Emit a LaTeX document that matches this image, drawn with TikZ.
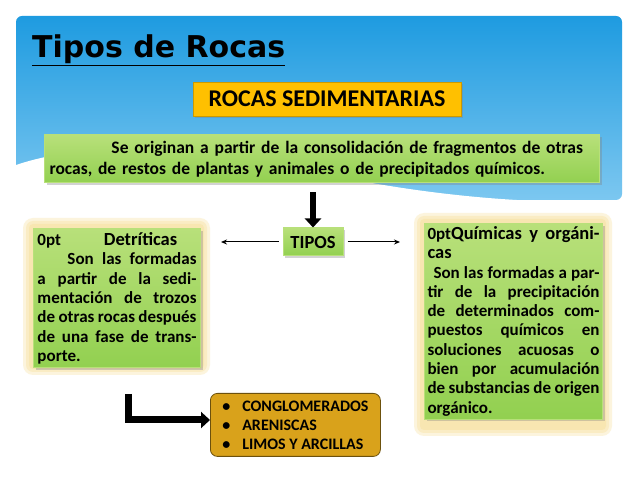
\documentclass[tikz,border=0pt]{standalone}
\usepackage{fontspec}
\setmainfont{Carlito}
\newfontfamily\titlefont{DejaVu Sans}
\usetikzlibrary{shadows,arrows.meta}
\definecolor{skyb}{HTML}{1E9BE0}
\definecolor{skyl}{HTML}{7CC7F0}
\definecolor{gold}{HTML}{FFC000}
\definecolor{grn}{HTML}{92D050}
\definecolor{grnl}{HTML}{B8E07A}
\definecolor{ochre}{HTML}{D9A21B}
\definecolor{glow}{HTML}{F5D77A}
\tikzset{
 greenbox/.style={draw=grnl,line width=1pt,top color=grnl,bottom color=grn,inner sep=4pt,drop shadow={opacity=0.35}},
 thinarrow/.style={-{Stealth[length=6pt,width=5pt]},line width=1pt},
 bigarrow/.style={-{Triangle[length=9pt,width=16pt]},line width=7pt},
}
\begin{document}
\begin{tikzpicture}[x=1pt,y=-1pt]
\useasboundingbox (0,0) rectangle (638,478);
\fill[white] (0,0) rectangle (638,478);
% header
\shade[top color=skyb,bottom color=skyl,rounded corners=6pt] (16,16) rectangle (622,200);
\fill[white] (16,165) .. controls (90,140) and (220,140) .. (330,175) .. controls (450,200) and (560,205) .. (622,200) -- (622,210) -- (16,210) -- cycle;
\node[anchor=base west,font=\titlefont\bfseries\fontsize{30}{32}\selectfont,inner sep=0pt] (title) at (32,58) {\underline{Tipos de Rocas}};
% glows
\foreach \o in {10,7,4}{
 \fill[glow,opacity=0.25,rounded corners=\o pt] (33-\o,228-\o) rectangle (200+\o,365+\o);
 \fill[glow,opacity=0.25,rounded corners=\o pt] (424-\o,223-\o) rectangle (602+\o,426+\o);
}
\node[fill=gold,draw=gold!80!black,line width=0.5pt,minimum width=268pt,minimum height=34pt,font=\bfseries\fontsize{24}{26}\selectfont,drop shadow={opacity=0.35}] (rs) at (327,99) {ROCAS SEDIMENTARIAS};
\node[greenbox,minimum width=555pt,minimum height=48pt,text width=545pt,inner sep=5pt,align=left,font=\bfseries\fontsize{17.5}{21}\selectfont] (desc) at (322,159) {\hspace*{62pt}Se originan a partir de la consolidación de fragmentos de otras\\rocas, de restos de plantas y animales o de precipitados químicos.};
\node[greenbox,minimum width=60pt,minimum height=28pt,inner sep=2pt,font=\bfseries\fontsize{18.5}{20}\selectfont] (tipos) at (313,242) {TIPOS};
\node[greenbox,anchor=north west,minimum width=167pt,text width=159pt,inner sep=4pt,align=justify,font=\bfseries\fontsize{17}{19.3}\selectfont\hyphenpenalty=10000\exhyphenpenalty=10000] (det) at (33,228) {\centerline{\fontsize{18.5}{20}\selectfont Detríticas}\par\hspace*{30pt}Son las formadas a partir de la sedimentación de trozos de otras rocas después de una fase de transporte.\par};
\node[greenbox,anchor=north west,minimum width=178pt,text width=172pt,inner sep=3pt,align=justify,font=\bfseries\fontsize{17}{19.3}\selectfont\hyphenpenalty=10000\exhyphenpenalty=10000] (qui) at (424,223) {{\fontsize{18.5}{21}\selectfont Químicas y orgánicas}\par\hspace*{6pt}Son las formadas a partir de la precipitación de determinados compuestos químicos en soluciones acuosas o bien por acumulación de substancias de origen orgánico.\par};
\node[fill=ochre,draw=ochre!50!black,line width=0.8pt,rounded corners=7pt,anchor=north west,minimum width=170pt,minimum height=63pt,inner sep=3pt,align=left,font=\bfseries\fontsize{16}{19}\selectfont] (list) at (210,393) {\textbullet\hspace{12pt}CONGLOMERADOS\\\textbullet\hspace{12pt}ARENISCAS\\\textbullet\hspace{12pt}LIMOS Y ARCILLAS};
% connectors
\draw[-{Triangle[length=9pt,width=16pt]},line width=6pt] (desc.south -| tipos) ++(0,9) coordinate (a0) -- (tipos.north);
\draw[thinarrow] (tipos.west) ++(-4,0) coordinate (a1) -- ([xshift=20pt]det.east |- tipos);
\draw[thinarrow] (tipos.east) ++(4,0) coordinate (a2) -- ([xshift=-24pt]qui.west |- tipos);
\coordinate (lc) at (128,394);
\draw[bigarrow] (lc) -- (128,420) -- (list.west |- 0,420);
\end{tikzpicture}
\end{document}
